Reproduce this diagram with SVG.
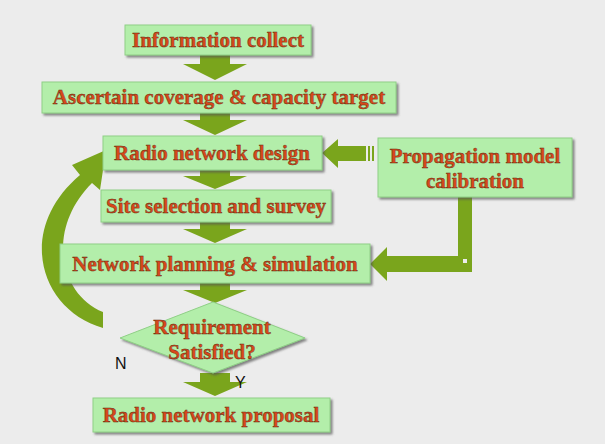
<svg xmlns="http://www.w3.org/2000/svg" width="605" height="444" viewBox="0 0 605 444">
<style>
.b{fill:#b3eeaa;stroke:#8fcf86;stroke-width:1;filter:url(#sh)}
.t{font-family:"Liberation Serif",serif;font-weight:bold;font-size:21px;fill:#d8481a;text-anchor:middle;stroke:#5a2a10;stroke-width:0.4}
.a{fill:#7aa51c}
.l{font-family:"Liberation Sans",sans-serif;font-size:16px;fill:#111}
</style>
<defs><filter id="sh" x="-5%" y="-10%" width="115%" height="130%"><feDropShadow dx="2" dy="2" stdDeviation="1" flood-color="#555" flood-opacity="0.7"/></filter></defs>
<rect width="605" height="444" fill="#ececec"/>
<g id="connectors">
<polygon class="a" points="200,55 230,55 230,64 247,64 215,80 183,64 200,64"/>
<polygon class="a" points="200,113 230,113 230,120 247,120 215,135 183,120 200,120"/>
<polygon class="a" points="200,170 230,170 230,176 247,176 215,189 183,176 200,176"/>
<polygon class="a" points="200,222 230,222 230,229 247,229 215,243 183,229 200,229"/>
<polygon class="a" points="200,283 230,283 230,290 247,290 215,303 183,290 200,290"/>
<polygon class="a" points="200,373 230,373 230,382 247,382 215,396 183,382 200,382"/>
<polygon class="a" points="366,146 366,161 338,161 338,168 322,153 338,139 338,146"/>
<rect class="a" x="368" y="146" width="2" height="15"/><rect class="a" x="372" y="146" width="2" height="15"/>
<path class="a" d="M458,197 H472 V256 H472 V272 H387 V281 L370,264 L387,247 V256 H458 Z"/>
<rect x="463" y="259" width="4" height="4" fill="#ececec"/>
<path class="a" d="M103,328 C40,310 15,230 80,175 L72,165 L106,150 L100,190 L92,183 C45,230 60,295 103,312 Z"/>
</g>
<g id="n1"><rect class="b" x="125" y="25" width="186" height="30"/><text class="t" x="218" y="47">Information collect</text></g>
<g id="n2"><rect class="b" x="42" y="82" width="354" height="31"/><text class="t" x="219" y="104">Ascertain coverage &amp; capacity target</text></g>
<g id="n3"><rect class="b" x="103" y="136" width="219" height="34"/><text class="t" x="212" y="160">Radio network design</text></g>
<g id="n4"><rect class="b" x="378" y="138" width="194" height="59"/><text class="t" x="475" y="163">Propagation model</text><text class="t" x="475" y="188">calibration</text></g>
<g id="n5"><rect class="b" x="101" y="190" width="230" height="32"/><text class="t" x="216" y="213">Site selection and survey</text></g>
<g id="n6"><rect class="b" x="60" y="244" width="310" height="39"/><text class="t" x="215" y="271">Network planning &amp; simulation</text></g>
<g id="n7"><polygon class="b" points="213,302 305,338 213,373 120,338"/><text class="t" x="212" y="334">Requirement</text><text class="t" x="212" y="359">Satisfied?</text></g>
<g id="n8"><rect class="b" x="93" y="398" width="237" height="34"/><text class="t" x="211" y="422">Radio network proposal</text></g>
<text class="l" x="115" y="369">N</text>
<text class="l" x="235" y="388">Y</text>
</svg>
